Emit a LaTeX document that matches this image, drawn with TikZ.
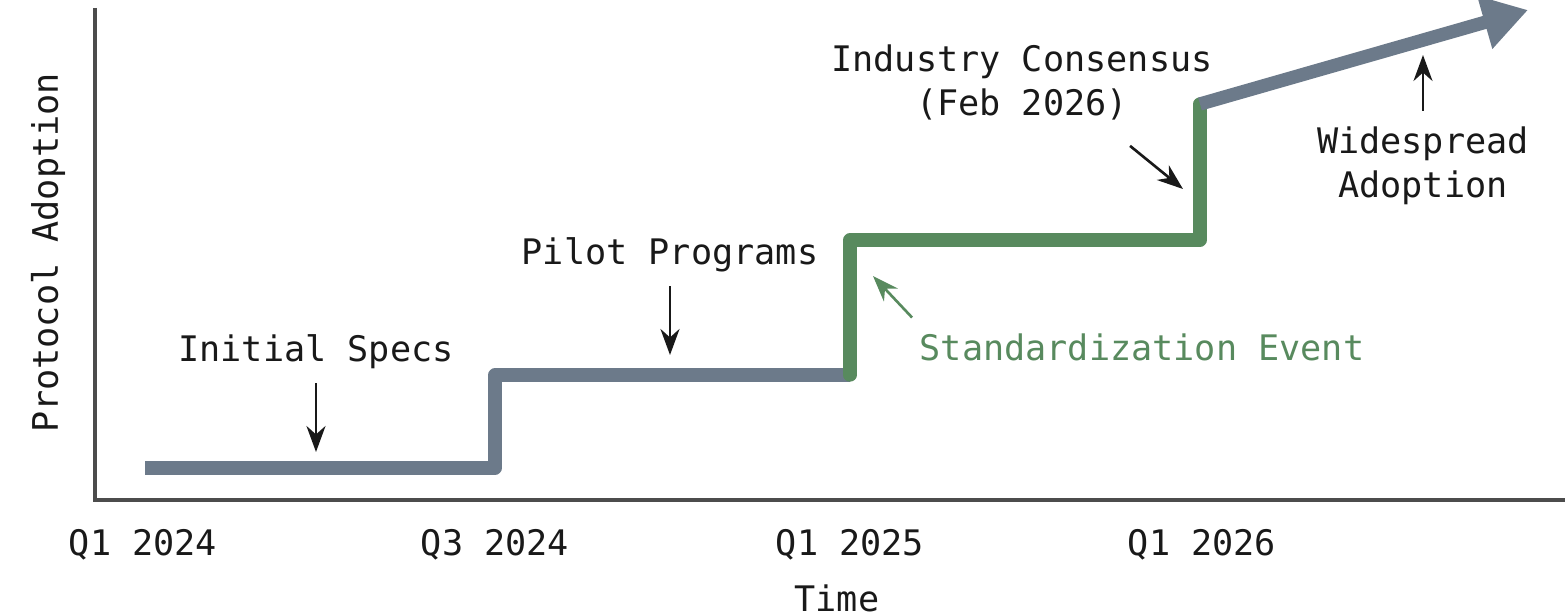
\documentclass[tikz,border=0pt]{standalone}
\usepackage{fontspec}
\setmonofont{DejaVu Sans Mono}
\usetikzlibrary{arrows.meta}

\definecolor{slategray}{RGB}{108,122,138}
\definecolor{stdgreen}{RGB}{88,138,94}
\definecolor{inkgray}{RGB}{25,25,25}

\tikzset{
  lbl/.style={font=\ttfamily\fontsize{10}{12.5}\selectfont, text=inkgray, align=center, inner sep=1pt},
  pointer/.style={-{Stealth[length=2.6mm,width=1.9mm]}, line width=0.75pt, inkgray},
  stepline/.style={line width=3.8pt, line join=round},
}

\begin{document}
\begin{tikzpicture}[x=0.01cm,y=-0.01cm]
\useasboundingbox (0,0) rectangle (1565,615);

% Ejes
\draw[line width=1pt, black!70] (95,8) -- (95,500) -- (1565,500);

% Puntos de la escalera
\coordinate (s0) at (145,468);
\coordinate (s1) at (495,468);
\coordinate (s2) at (495,375);
\coordinate (s3) at (850,375);
\coordinate (s4) at (850,240);
\coordinate (s5) at (1200,240);
\coordinate (s6) at (1200,104);
\coordinate (s7) at (1528,10);

% Escalera
\draw[stepline, slategray] (s0) -- (s1) -- (s2) -- (s3);
\draw[stepline, stdgreen, line cap=round] (s3) -- (s4) -- (s5) -- (s6);
\draw[stepline, slategray, -{Triangle[length=0.45cm,width=0.52cm]}] (s6) -- (s7);

% Etiquetas de eventos
\node[lbl] (initial) at (316,352) {Initial Specs};
\coordinate (initialtip) at (316,452);
\draw[pointer, shorten <=1mm] (initial) -- (initialtip);

\node[lbl] (pilot) at (670,255) {Pilot Programs};
\coordinate (pilottip) at (670,355);
\draw[pointer, shorten <=1mm] (pilot) -- (pilottip);

\node[lbl, text=stdgreen] (std) at (1142,347) {Standardization Event};
\coordinate (stdtip) at (873,276);
\draw[pointer, stdgreen, shorten <=0.5mm] ([yshift=0.08cm]std.north west) -- (stdtip);

\node[lbl] (consensus) at (1022,82) {Industry Consensus\\(Feb 2026)};
\coordinate (constip) at (1183,189);
\draw[pointer] ([xshift=1.08cm,yshift=-0.22cm]consensus.south) -- (constip);

\node[lbl] (wide) at (1423,166) {Widespread\\Adoption};
\coordinate (widetip) at (1423,55);
\draw[pointer, shorten <=1.2mm] (wide) -- (widetip);

% Ejes: textos
\node[lbl, rotate=90] (ylabel) at (48,253) {Protocol Adoption};
\foreach \x/\t [count=\i] in {143/Q1 2024, 495/Q3 2024, 850/Q1 2025, 1202/Q1 2026}
  \node[lbl] (tick\i) at (\x,545) {\t};
\node[lbl] (xlabel) at (837,598) {Time};

\end{tikzpicture}
\end{document}
